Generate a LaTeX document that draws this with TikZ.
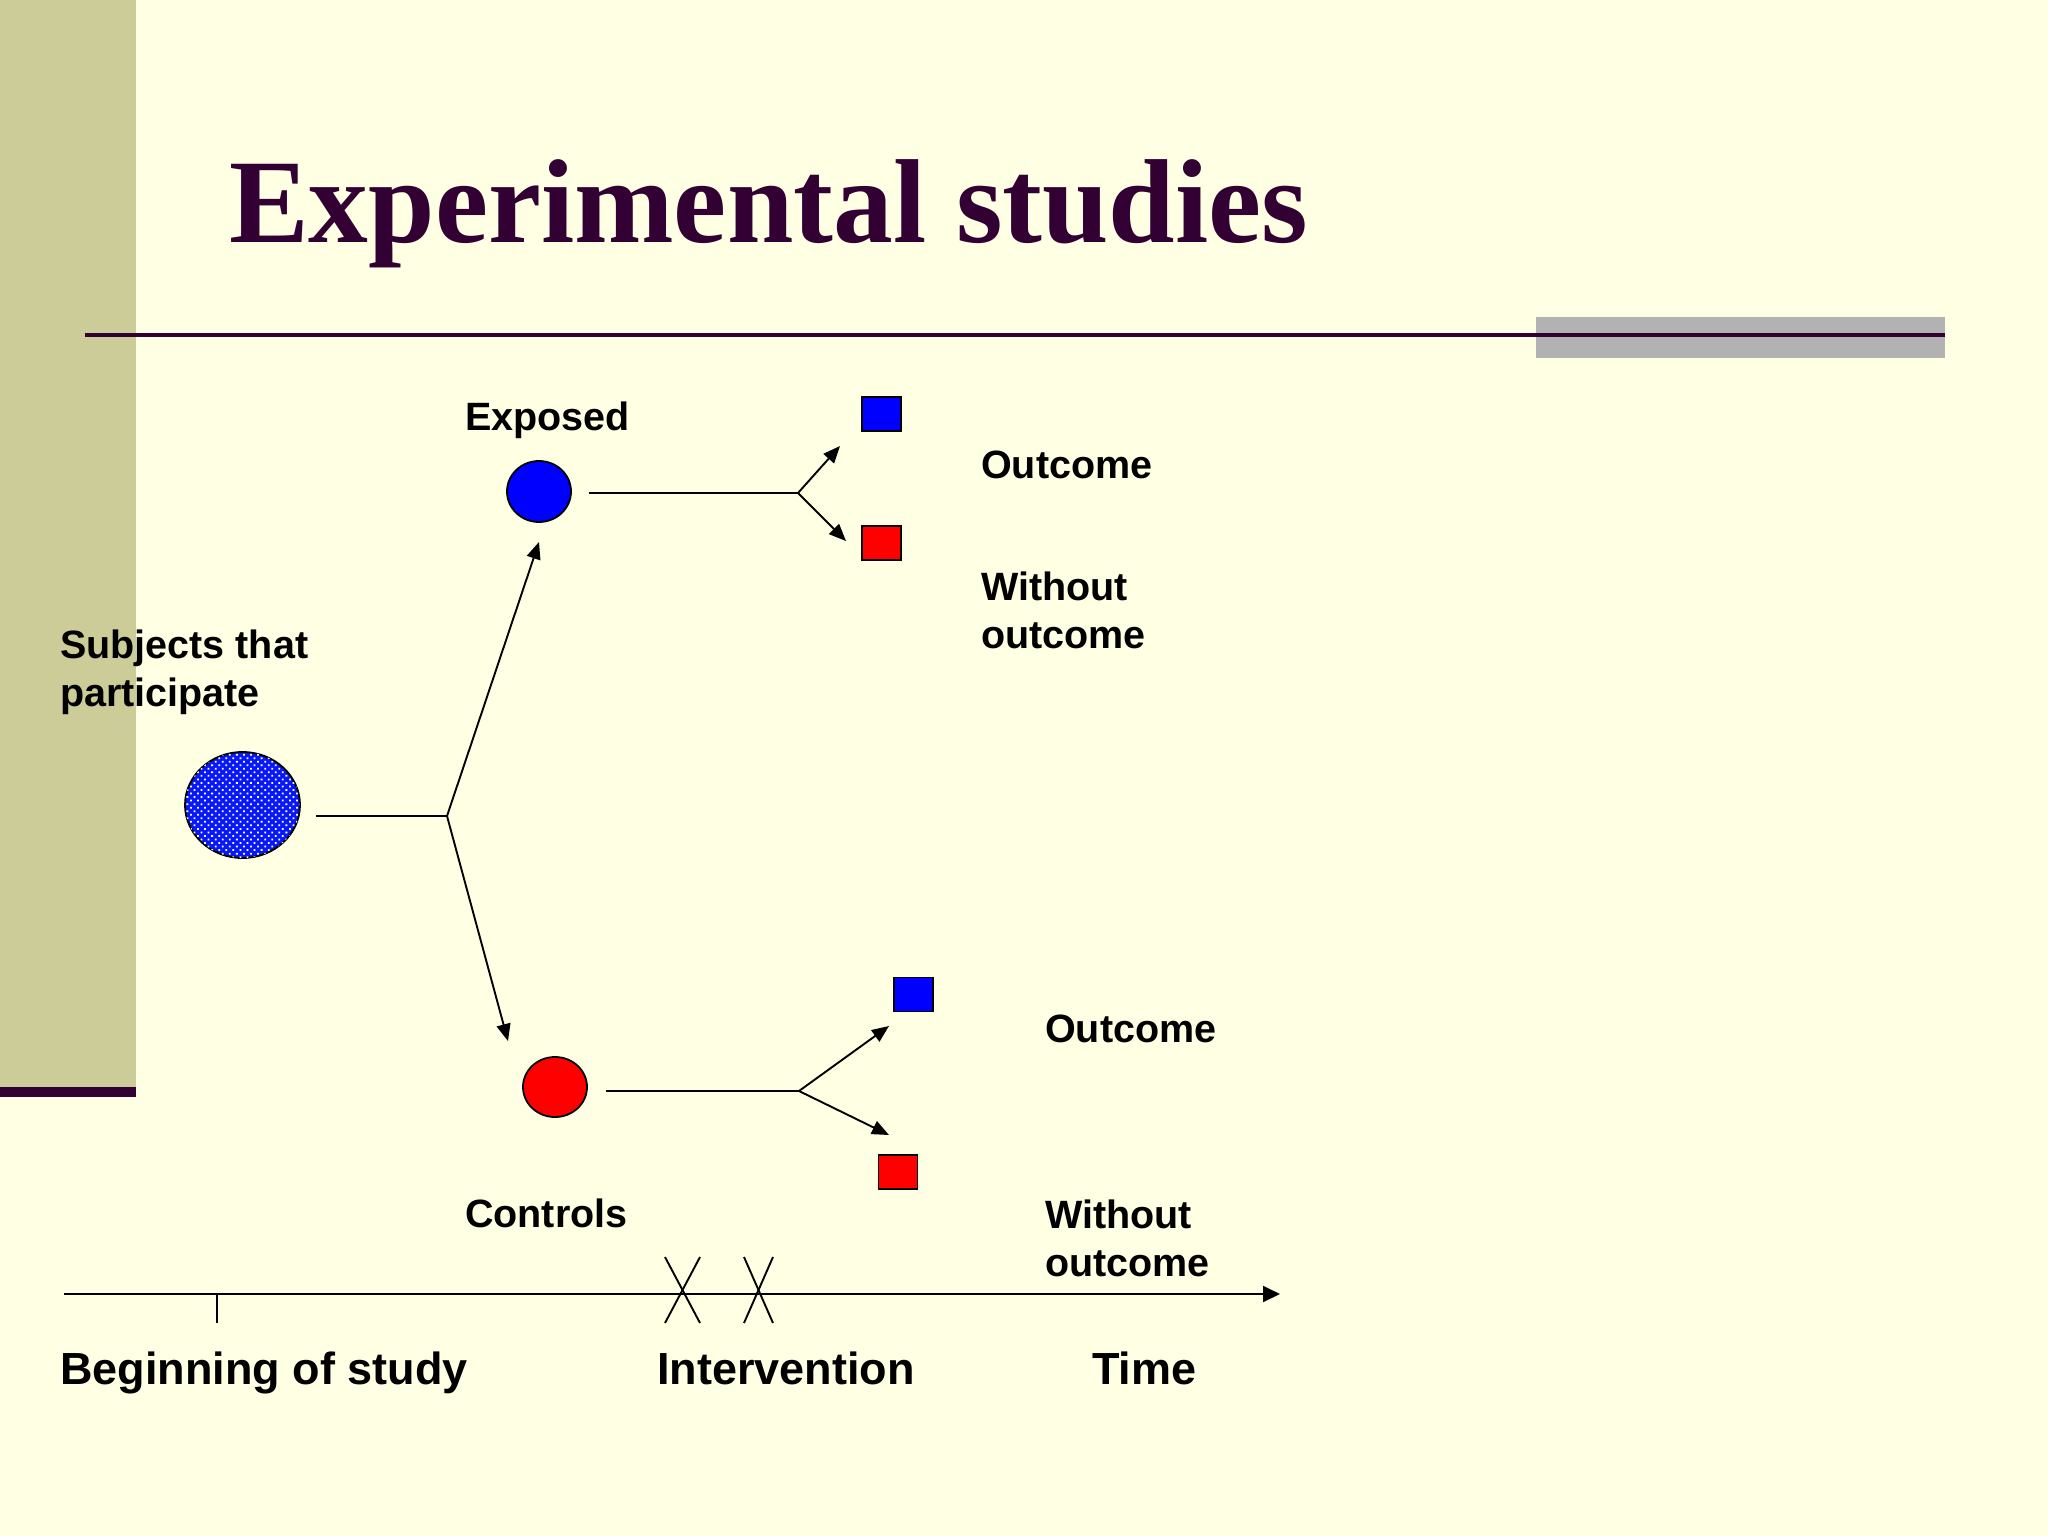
\documentclass[tikz,border=0pt]{standalone}
\usepackage{fontspec}
\setmainfont{Liberation Sans}
\newfontfamily\titlefont{Liberation Serif}
\usetikzlibrary{shapes.geometric,arrows.meta,patterns.meta}
\definecolor{bgc}{HTML}{FFFFE3}
\definecolor{barc}{HTML}{CCCC99}
\definecolor{darkp}{HTML}{330033}
\definecolor{grayc}{HTML}{B2B2B2}
\definecolor{patblue}{HTML}{0818F8}
\begin{document}
\begin{tikzpicture}[x=1pt,y=-1pt,
  lab/.style={anchor=base west, inner sep=0pt, font=\fontsize{39.5}{48}\selectfont\bfseries, align=left},
  biglab/.style={anchor=base west, inner sep=0pt, font=\fontsize{45}{54}\selectfont\bfseries},
  conn/.style={line width=1.9pt, draw=black},
  arr/.style={conn, -{Triangle[length=17pt,width=14pt]}},
  dot/.style={ellipse, draw=black, line width=1.8pt, inner sep=0pt},
  sq/.style={rectangle, draw=black, line width=1.5pt, inner sep=0pt, minimum width=39pt, minimum height=34pt}]
\useasboundingbox (0,0) rectangle (2048,1536);
\fill[bgc] (0,0) rectangle (2048,1536);
% left bar
\fill[barc] (0,0) rectangle (136,1087);
\fill[darkp] (0,1087) rectangle (136,1097);
% title rule
\fill[grayc] (1536,317) rectangle (1945,358);
\fill[darkp] (85,332.5) rectangle (1945,336.5);
% title
\node[anchor=base west, inner sep=0pt, text=darkp, font=\titlefont\fontsize{119.5}{140}\selectfont\bfseries] (title) at (229,242) {Experimental studies};

% shapes
\node[dot, minimum width=115pt, minimum height=106pt, fill=patblue, postaction={pattern={Dots[distance=5pt, angle=45, radius=1.25pt]}, pattern color=white}] (subj) at (242.5,805) {};
\node[dot, minimum width=64pt, minimum height=61pt, fill=blue] (expc) at (539,491.5) {};
\node[dot, minimum width=64pt, minimum height=60pt, fill=red] (conc) at (555,1087) {};
\node[sq, fill=blue] (sq1) at (881.5,414) {};
\node[sq, fill=red] (sq2) at (881.5,543) {};
\node[sq, fill=blue] (sq3) at (913.5,994.5) {};
\node[sq, fill=red] (sq4) at (898,1172) {};

% forks
\coordinate (fork1) at (447,816);
\coordinate (fork2) at (798,493);
\coordinate (fork3) at (799,1091);
\coordinate (e1) at (539,542);
\coordinate (e2) at (508,1041);
\coordinate (e3) at (840,446);
\coordinate (e4) at (846,541);
\coordinate (e5) at (889,1026);
\coordinate (e6) at (889,1135);

\draw[conn] ([shift={(15,11)}]subj.east) -- (fork1);
\draw[arr] (fork1) -- (e1);
\draw[arr] (fork1) -- (e2);
\draw[conn] ([shift={(17,1.5)}]expc.east) -- (fork2);
\draw[arr] (fork2) -- (e3);
\draw[arr] (fork2) -- (e4);
\draw[conn] ([shift={(18,4)}]conc.east) -- (fork3);
\draw[arr] (fork3) -- (e5);
\draw[arr] (fork3) -- (e6);

% timeline
\coordinate (t0) at (64,1294);
\coordinate (t1) at (1280,1294);
\coordinate (tk) at (217,1294);
\coordinate (tkb) at (217,1323);
\draw[conn, -{Triangle[length=17pt,width=16pt]}] (t0) -- (t1);
\draw[conn] (tk) -- (tkb);
\coordinate (xa1) at (665,1257); \coordinate (xa2) at (700,1323);
\coordinate (xa3) at (700,1257); \coordinate (xa4) at (665,1323);
\coordinate (xb1) at (744,1257); \coordinate (xb2) at (773,1323);
\coordinate (xb3) at (773,1257); \coordinate (xb4) at (744,1323);
\draw[conn] (xa1) -- (xa2);
\draw[conn] (xa3) -- (xa4);
\draw[conn] (xb1) -- (xb2);
\draw[conn] (xb3) -- (xb4);

% labels
\node[lab] (lexp) at (465,430) {Exposed};
\node[lab] (lout1) at (981,478) {Outcome};
\node[lab] (lwo1) at (981,648) {Without\\outcome};
\node[lab] (lsub) at (60,706) {Subjects that\\participate};
\node[lab] (lout2) at (1045,1042) {Outcome};
\node[lab] (lwo2) at (1045,1276) {Without\\outcome};
\node[lab] (lcon) at (465,1227) {Controls};
\node[biglab] (lbeg) at (60,1384) {Beginning of study};
\node[biglab] (lint) at (657,1384) {Intervention};
\node[biglab] (ltime) at (1092,1384) {Time};
\end{tikzpicture}
\end{document}
